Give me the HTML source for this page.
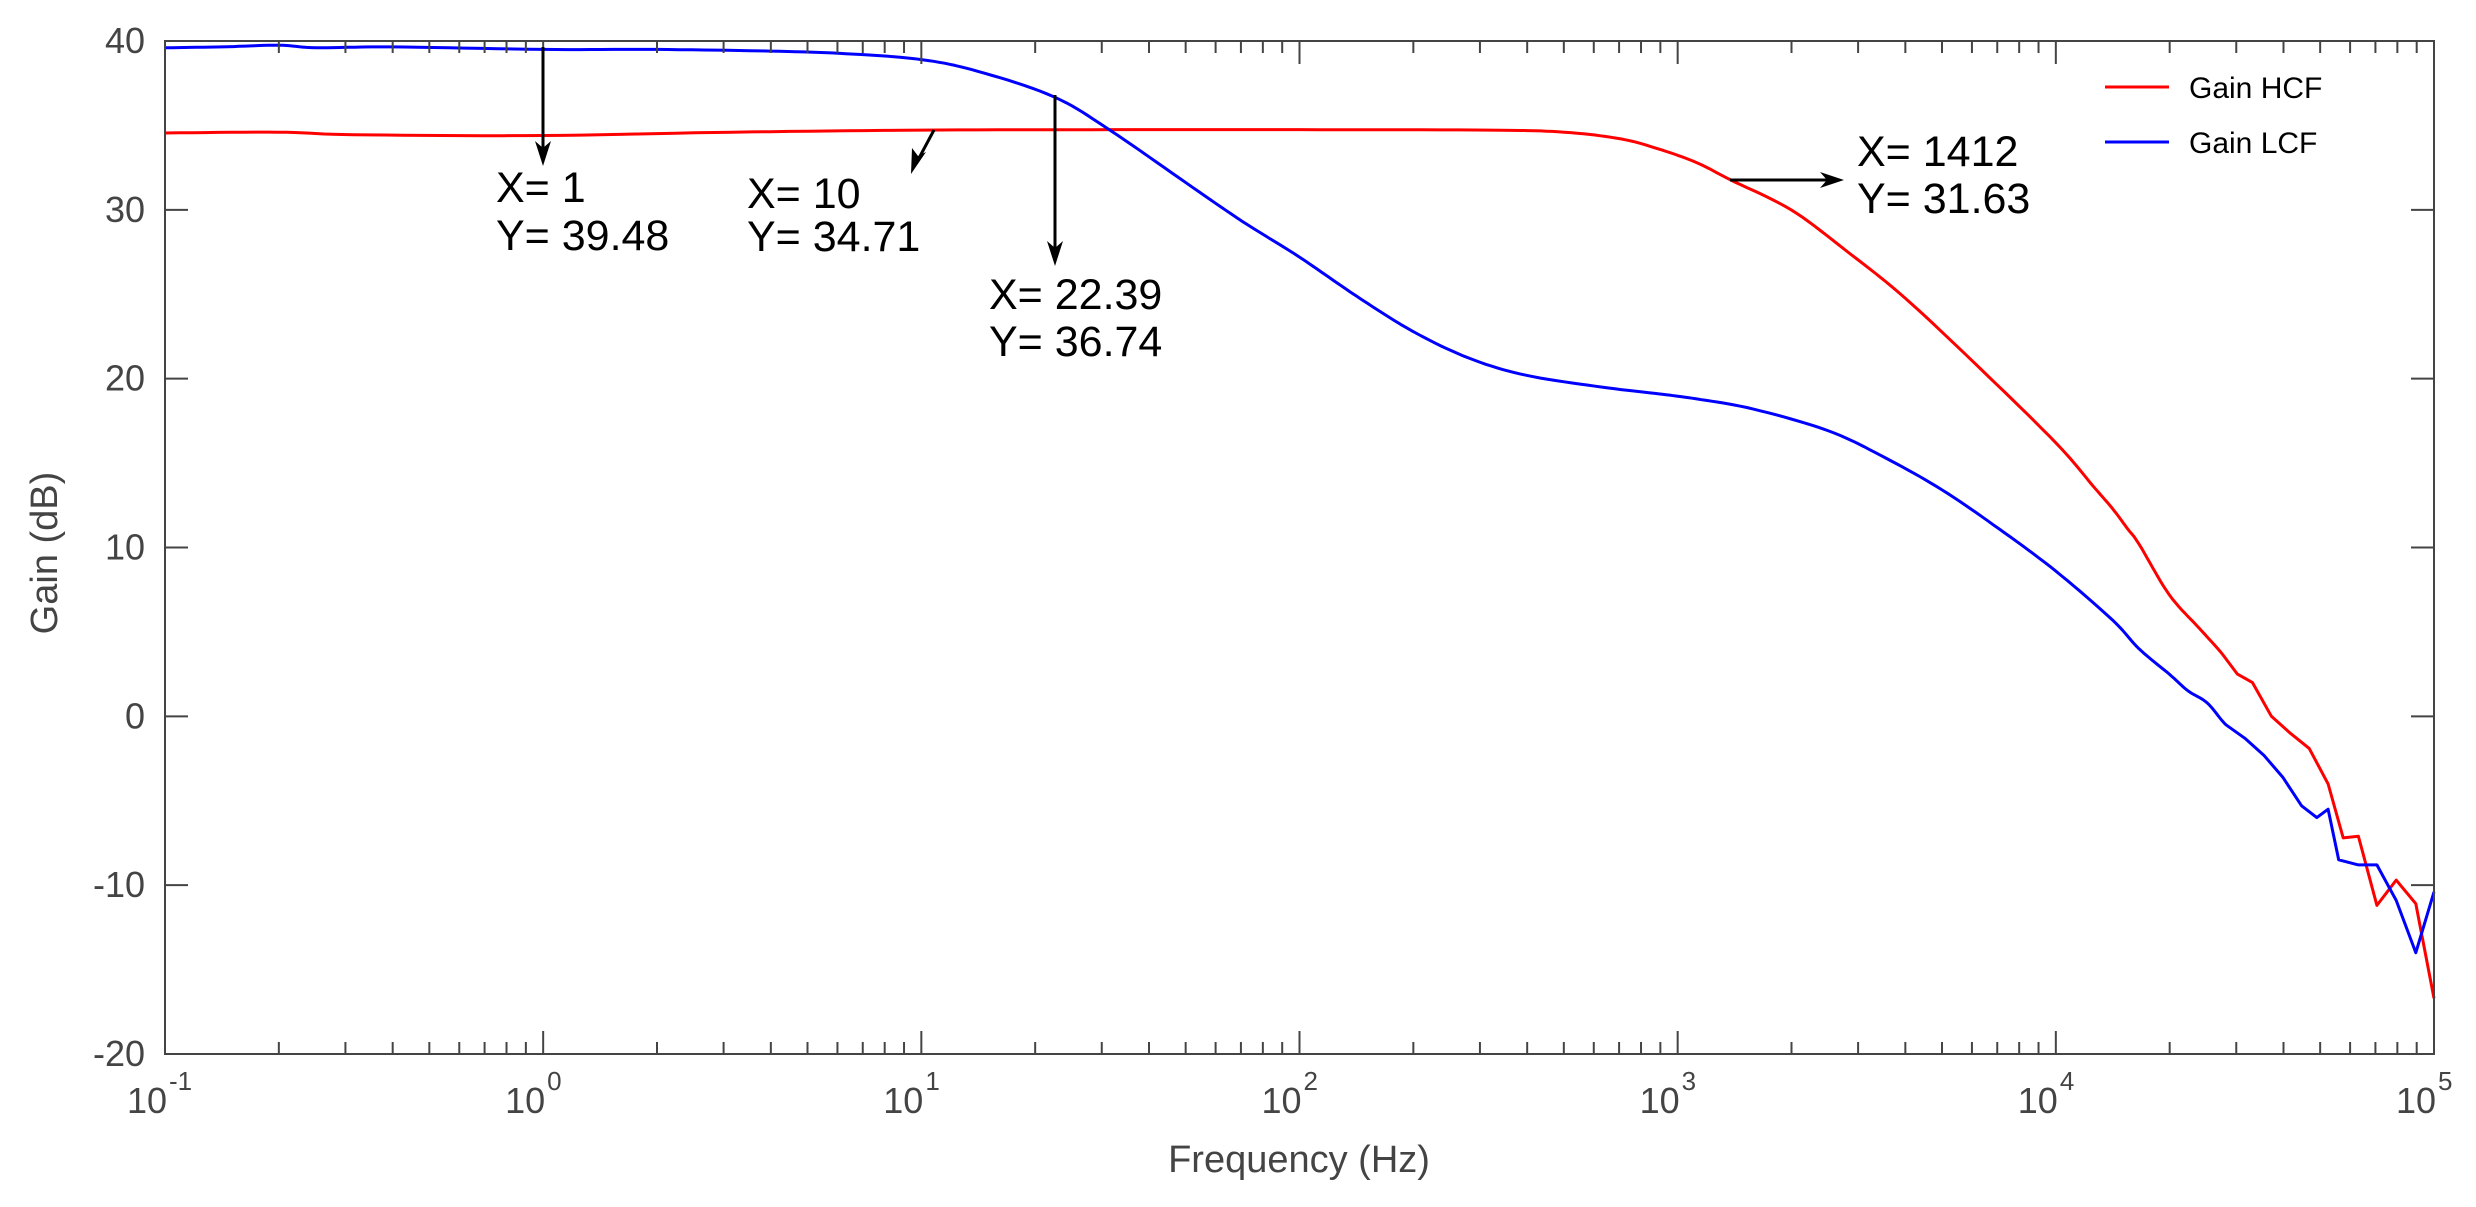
<!DOCTYPE html>
<html><head><meta charset="utf-8"><style>
html,body{margin:0;padding:0;background:#fff}
svg{display:block}
text{font-family:"Liberation Sans",sans-serif}
</style></head><body>
<svg id="s" width="2476" height="1207" viewBox="0 0 2476 1207" xmlns="http://www.w3.org/2000/svg">
<rect width="2476" height="1207" fill="#fff"/>
<g id="g"></g>
<g fill="#000" font-size="43">
<text x="496" y="202">X= 1</text><text x="496" y="250">Y= 39.48</text>
<text x="747" y="208">X= 10</text><text x="747" y="251">Y= 34.71</text>
<text x="989" y="309">X= 22.39</text><text x="989" y="356">Y= 36.74</text>
<text x="1857" y="166">X= 1412</text><text x="1857" y="213">Y= 31.63</text>
</g>
<g stroke="#000" stroke-width="3" fill="none">
<line x1="543" y1="47" x2="543" y2="150"/>
<line x1="934" y1="130" x2="918" y2="160"/>
<line x1="1055" y1="95" x2="1055" y2="250"/>
<line x1="1730" y1="180" x2="1830" y2="180"/>
</g>
<g fill="#000">
<polygon points="543,166 535,141 543,148 551,141"/>
<polygon points="911,174 912,148 918,156 926,152"/>
<polygon points="1055,266 1047,241 1055,248 1063,241"/>
<polygon points="1844,180 1820,172 1827,180 1820,188"/>
</g>
<g font-size="30">
<line x1="2105" y1="87" x2="2169" y2="87" stroke="#f00" stroke-width="3"/>
<line x1="2105" y1="142" x2="2169" y2="142" stroke="#00f" stroke-width="3"/>
<text x="2189" y="98">Gain HCF</text>
<text x="2189" y="153">Gain LCF</text>
</g>
<text x="1299" y="1172" font-size="38" fill="#444" text-anchor="middle">Frequency (Hz)</text>
<text transform="translate(57,553) rotate(-90)" font-size="38" fill="#444" text-anchor="middle">Gain (dB)</text>
</svg>
<script>
var L=165,R=2434,T=41,B=1054;
function X(l){return L+(l+1)*(R-L)/6}
function Y(d){return T+(40-d)*(B-T)/60}
var g=document.getElementById('g'),h='';
var red=[[-1,34.55],[-0.7,34.6],[-0.5,34.45],[0,34.4],[0.5,34.6],[1,34.72],[1.5,34.75],[2,34.75],[2.5,34.72],[2.7,34.6],[2.85,34.2],[2.95,33.6],[3.05,32.8],[3.14,31.77],[3.3,30],[3.45,27.5],[3.6,24.8],[3.8,20.6],[4.0,16.2],[4.1,13.6],[4.15,12.3],[4.19,11.1],[4.22,10.2],[4.3,7.2],[4.38,5.2],[4.44,3.7],[4.48,2.5],[4.52,2.0],[4.57,0],[4.62,-1],[4.67,-1.9],[4.72,-4],[4.76,-7.2],[4.8,-7.1],[4.849,-11.2],[4.9,-9.7],[4.952,-11.1],[5.0,-16.7]];
var blue=[[-1,39.6],[-0.85,39.65],[-0.7,39.75],[-0.6,39.6],[-0.4,39.65],[0,39.5],[0.3,39.5],[0.6,39.4],[0.8,39.25],[1.0,38.9],[1.15,38.2],[1.35,36.7],[1.5,34.7],[1.7,31.6],[1.85,29.3],[2.0,27.2],[2.15,24.9],[2.3,22.8],[2.45,21.2],[2.6,20.2],[2.8,19.5],[2.95,19.1],[3.05,18.8],[3.2,18.2],[3.4,16.9],[3.55,15.3],[3.7,13.4],[3.85,11.1],[4.0,8.6],[4.15,5.7],[4.22,4.0],[4.3,2.5],[4.35,1.5],[4.4,0.8],[4.45,-0.5],[4.5,-1.3],[4.55,-2.3],[4.6,-3.6],[4.65,-5.3],[4.69,-6.0],[4.72,-5.5],[4.748,-8.5],[4.8,-8.8],[4.849,-8.8],[4.9,-10.9],[4.952,-14],[5.0,-10.4]];
function smooth(a,lim){var o=[];for(var i=0;i<a.length-1;i++){var p0=a[Math.max(0,i-1)],p1=a[i],p2=a[i+1],p3=a[Math.min(a.length-1,i+2)];
 if(p2[0]>lim){o.push(p1);continue;}
 for(var t=0;t<1;t+=0.1){var t2=t*t,t3=t2*t;var f=function(k){return 0.5*(2*p1[k]+(-p0[k]+p2[k])*t+(2*p0[k]-5*p1[k]+4*p2[k]-p3[k])*t2+(-p0[k]+3*p1[k]-3*p2[k]+p3[k])*t3)};o.push([f(0),f(1)]);}}
 o.push(a[a.length-1]);return o;}
function path(a,c){return '<polyline fill="none" stroke="'+c+'" stroke-width="3" stroke-linejoin="round" points="'+a.map(function(p){return X(p[0]).toFixed(1)+','+Y(p[1]).toFixed(1)}).join(' ')+'"/>';}
h+=path(smooth(red,4.45),'#f00')+path(smooth(blue,4.45),'#00f');
var ax='#444';
h+='<rect x="'+L+'" y="'+T+'" width="'+(R-L)+'" height="'+(B-T)+'" fill="none" stroke="'+ax+'" stroke-width="2"/>';
for(var d=-1;d<=5;d++){
 var x=X(d);
 h+='<line x1="'+x+'" y1="'+B+'" x2="'+x+'" y2="'+(B-23)+'" stroke="'+ax+'" stroke-width="2"/>';
 h+='<line x1="'+x+'" y1="'+T+'" x2="'+x+'" y2="'+(T+23)+'" stroke="'+ax+'" stroke-width="2"/>';
 h+='<text x="'+(x+2)+'" y="1113" font-size="36" fill="'+ax+'" text-anchor="end">10</text>';
 h+='<text x="'+(x+4)+'" y="1090" font-size="26" fill="'+ax+'">'+d+'</text>';
 if(d<5)for(var k=2;k<10;k++){var xm=X(d+Math.log10(k));
  h+='<line x1="'+xm+'" y1="'+B+'" x2="'+xm+'" y2="'+(B-12)+'" stroke="'+ax+'" stroke-width="2"/>';
  h+='<line x1="'+xm+'" y1="'+T+'" x2="'+xm+'" y2="'+(T+12)+'" stroke="'+ax+'" stroke-width="2"/>';}
}
for(var v=-20;v<=40;v+=10){var y=Y(v);
 h+='<line x1="'+L+'" y1="'+y+'" x2="'+(L+23)+'" y2="'+y+'" stroke="'+ax+'" stroke-width="2"/>';
 h+='<line x1="'+R+'" y1="'+y+'" x2="'+(R-23)+'" y2="'+y+'" stroke="'+ax+'" stroke-width="2"/>';
 h+='<text x="145" y="'+(y+12)+'" font-size="36" fill="'+ax+'" text-anchor="end">'+v+'</text>';}
g.innerHTML=h;
</script>
</body></html>
